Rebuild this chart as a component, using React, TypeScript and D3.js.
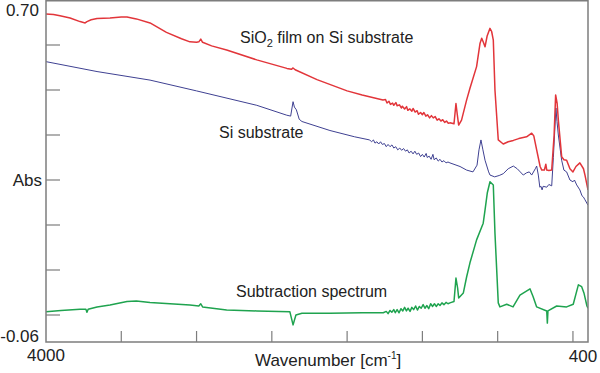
import React from "react";
import * as d3 from "d3";

type P = [number, number];

const xTicks = [3500, 3000, 2500, 2000, 1500, 1000, 500];
const yTicks = [0.0, 0.1, 0.2, 0.3, 0.4, 0.5, 0.6, 0.7];

const sio2Film: P[] = [
  [4000, 0.669], [3950, 0.668], [3907, 0.665], [3840, 0.66], [3774, 0.652], [3740, 0.649], [3728, 0.652],
  [3700, 0.656], [3661, 0.659], [3575, 0.66], [3500, 0.662], [3462, 0.662], [3400, 0.658], [3309, 0.649],
  [3200, 0.628], [3100, 0.614], [3044, 0.607], [3000, 0.606], [2985, 0.607], [2972, 0.613], [2960, 0.606],
  [2900, 0.598], [2800, 0.589], [2600, 0.567], [2400, 0.548], [2370, 0.546], [2359, 0.549], [2345, 0.545],
  [2200, 0.523], [2000, 0.498], [1900, 0.489], [1762, 0.478],
  [1745, 0.479], [1735, 0.471], [1722, 0.475], [1712, 0.468], [1698, 0.471], [1690, 0.466], [1676, 0.472],
  [1668, 0.465], [1652, 0.467], [1640, 0.46], [1633, 0.464], [1618, 0.458], [1605, 0.463], [1597, 0.455],
  [1583, 0.458], [1570, 0.453], [1562, 0.459], [1548, 0.451], [1535, 0.454], [1526, 0.446], [1512, 0.45],
  [1500, 0.445], [1490, 0.45], [1477, 0.442], [1466, 0.445], [1452, 0.438], [1440, 0.443], [1428, 0.438],
  [1415, 0.441], [1402, 0.433], [1390, 0.436], [1377, 0.431], [1365, 0.434], [1352, 0.428], [1340, 0.431],
  [1328, 0.426], [1317, 0.427], [1290, 0.425], [1277, 0.47], [1268, 0.445],
  [1259, 0.422], [1240, 0.433], [1206, 0.478], [1184, 0.504], [1140, 0.552], [1117, 0.604], [1106, 0.615],
  [1095, 0.606], [1084, 0.596], [1070, 0.62], [1051, 0.637], [1040, 0.63], [1029, 0.611], [1018, 0.5],
  [996, 0.389], [963, 0.38], [930, 0.385], [896, 0.388], [860, 0.392], [808, 0.396], [774, 0.404],
  [760, 0.398], [741, 0.367], [718, 0.33], [707, 0.322], [690, 0.322], [680, 0.335], [674, 0.322],
  [660, 0.321], [641, 0.322], [625, 0.4], [615, 0.489], [605, 0.47], [597, 0.433], [575, 0.352],
  [560, 0.345], [542, 0.344], [520, 0.325], [500, 0.318], [480, 0.33], [454, 0.338], [430, 0.325],
  [420, 0.311], [400, 0.278],
];

const siSubstrate: P[] = [
  [4000, 0.563], [3661, 0.541], [3309, 0.522], [3000, 0.498], [2600, 0.466], [2401, 0.444], [2375, 0.442],
  [2359, 0.474], [2350, 0.462], [2337, 0.456], [2318, 0.435], [2300, 0.43], [2114, 0.41], [1950, 0.396],
  [1850, 0.389], [1838, 0.385], [1825, 0.389], [1815, 0.382], [1802, 0.385], [1790, 0.38], [1778, 0.385],
  [1766, 0.379], [1752, 0.381], [1740, 0.374], [1728, 0.379], [1715, 0.374], [1702, 0.378], [1690, 0.371],
  [1677, 0.374], [1664, 0.367], [1650, 0.371], [1638, 0.366], [1625, 0.37], [1612, 0.364], [1600, 0.367],
  [1588, 0.36], [1575, 0.364], [1562, 0.358], [1550, 0.364], [1538, 0.357], [1525, 0.36], [1512, 0.352],
  [1500, 0.357], [1488, 0.351], [1475, 0.359], [1468, 0.35], [1455, 0.353], [1442, 0.346], [1430, 0.357],
  [1422, 0.345], [1408, 0.349], [1395, 0.342], [1383, 0.346], [1370, 0.34], [1357, 0.343], [1343, 0.338],
  [1330, 0.34], [1317, 0.338],
  [1250, 0.33], [1206, 0.322], [1164, 0.318], [1137, 0.333], [1124, 0.367], [1111, 0.389], [1098, 0.367],
  [1084, 0.344], [1060, 0.318], [1051, 0.311], [1020, 0.307], [990, 0.31], [963, 0.314], [930, 0.325],
  [896, 0.331], [870, 0.325], [850, 0.318], [830, 0.311], [808, 0.316], [790, 0.318], [774, 0.311],
  [750, 0.325], [741, 0.331], [730, 0.311], [720, 0.284], [712, 0.286], [705, 0.278], [698, 0.286],
  [674, 0.284], [660, 0.29], [641, 0.287], [630, 0.35], [613, 0.46], [606, 0.43], [597, 0.4],
  [575, 0.344], [560, 0.322], [542, 0.318], [520, 0.3], [500, 0.296], [490, 0.3], [475, 0.289],
  [454, 0.278], [440, 0.265], [430, 0.262], [420, 0.256], [400, 0.244],
];

const subtraction: P[] = [
  [4000, 0.007], [3900, 0.01], [3774, 0.013], [3735, 0.013], [3728, 0.006], [3720, 0.013], [3661, 0.018],
  [3575, 0.022], [3462, 0.03], [3400, 0.031], [3309, 0.028], [3044, 0.022], [2985, 0.02], [2972, 0.025],
  [2960, 0.018], [2800, 0.011], [2600, 0.009], [2380, 0.007], [2359, -0.022], [2340, 0.0], [2300, 0.004],
  [2114, 0.004], [1900, 0.005], [1760, 0.005],
  [1740, 0.008], [1728, 0.003], [1715, 0.01], [1703, 0.006], [1690, 0.012], [1680, 0.005], [1668, 0.012],
  [1655, 0.005], [1642, 0.014], [1630, 0.009], [1618, 0.017], [1606, 0.009], [1595, 0.015], [1582, 0.008],
  [1570, 0.017], [1558, 0.012], [1545, 0.02], [1533, 0.011], [1520, 0.019], [1508, 0.015], [1495, 0.023],
  [1483, 0.015], [1470, 0.021], [1458, 0.014], [1445, 0.025], [1432, 0.019], [1420, 0.025], [1407, 0.019],
  [1395, 0.025], [1383, 0.021], [1370, 0.027], [1357, 0.023], [1343, 0.028], [1330, 0.025], [1317, 0.027],
  [1290, 0.03], [1277, 0.082], [1266, 0.06], [1259, 0.038], [1228, 0.049],
  [1206, 0.085], [1184, 0.116], [1140, 0.167], [1096, 0.204], [1084, 0.233], [1069, 0.271], [1051, 0.296],
  [1029, 0.289], [1018, 0.182], [996, 0.027], [985, 0.018], [940, 0.024], [898, 0.018], [852, 0.044],
  [785, 0.058], [765, 0.041], [741, 0.018], [674, 0.009], [670, -0.018], [666, 0.009], [608, 0.02],
  [542, 0.018], [498, 0.024], [464, 0.067], [442, 0.063], [427, 0.049], [407, 0.02], [400, 0.015],
];

const W = 600;
const H = 373;
const left = 46;
const right = 588;
const top = 0;
const bottom = 342;
const axisColor = "#7d7d7d";
const font = "'Liberation Sans', Arial, Helvetica, sans-serif";

export default function App() {
  const x = d3.scaleLinear().domain([4000, 400]).range([left, right]);
  const y = d3.scaleLinear().domain([-0.06, 0.7]).range([bottom, top]);
  const line = d3
    .line<P>()
    .x((d) => x(d[0]))
    .y((d) => y(d[1]));

  return (
    <div style={{ position: "fixed", left: 0, top: 0 }}>
      <svg width={W} height={H} style={{ display: "block", background: "#fff" }}>
        <defs>
          <clipPath id="plot">
            <rect x={left} y={top} width={right - left} height={bottom - top} />
          </clipPath>
        </defs>
        <g clipPath="url(#plot)" fill="none" strokeLinejoin="round">
          <path d={line(subtraction) || ""} stroke="#1fa34f" strokeWidth={1.5} />
          <path d={line(siSubstrate) || ""} stroke="#3f4192" strokeWidth={1} />
          <path d={line(sio2Film) || ""} stroke="#e2353a" strokeWidth={1.5} />
        </g>
        <rect x={left} y={top + 0.75} width={right - left} height={bottom - top - 0.75} fill="none" stroke={axisColor} strokeWidth={1.5} />
        {yTicks.map((t) => (
          <line key={t} x1={left} x2={left + 14} y1={y(t)} y2={y(t)} stroke={axisColor} strokeWidth={1.2} />
        ))}
        {xTicks.map((t) => (
          <line key={t} x1={x(t)} x2={x(t)} y1={bottom} y2={bottom - 11} stroke={axisColor} strokeWidth={1.2} />
        ))}
        <g fontFamily={font} fill="#222">
          <text x={39} y={16} fontSize={17} textAnchor="end">0.70</text>
          <text x={39} y={342} fontSize={17} textAnchor="end">-0.06</text>
          <text x={42} y={y(0.3) + 6} fontSize={17} textAnchor="end">Abs</text>
          <text x={x(4000)} y={361} fontSize={17} textAnchor="middle">4000</text>
          <text x={583} y={362} fontSize={17} textAnchor="middle">400</text>
          <text x={255} y={366} fontSize={17}>
            Wavenumber [cm<tspan fontSize={10} dy={-7}>-1</tspan><tspan dy={7}>]</tspan>
          </text>
          <text x={240} y={43} fontSize={16}>
            SiO<tspan fontSize={11} dy={4}>2</tspan><tspan dy={-4}> film on Si substrate</tspan>
          </text>
          <text x={219} y={138} fontSize={16}>Si substrate</text>
          <text x={236} y={297} fontSize={16}>Subtraction spectrum</text>
        </g>
      </svg>
    </div>
  );
}
